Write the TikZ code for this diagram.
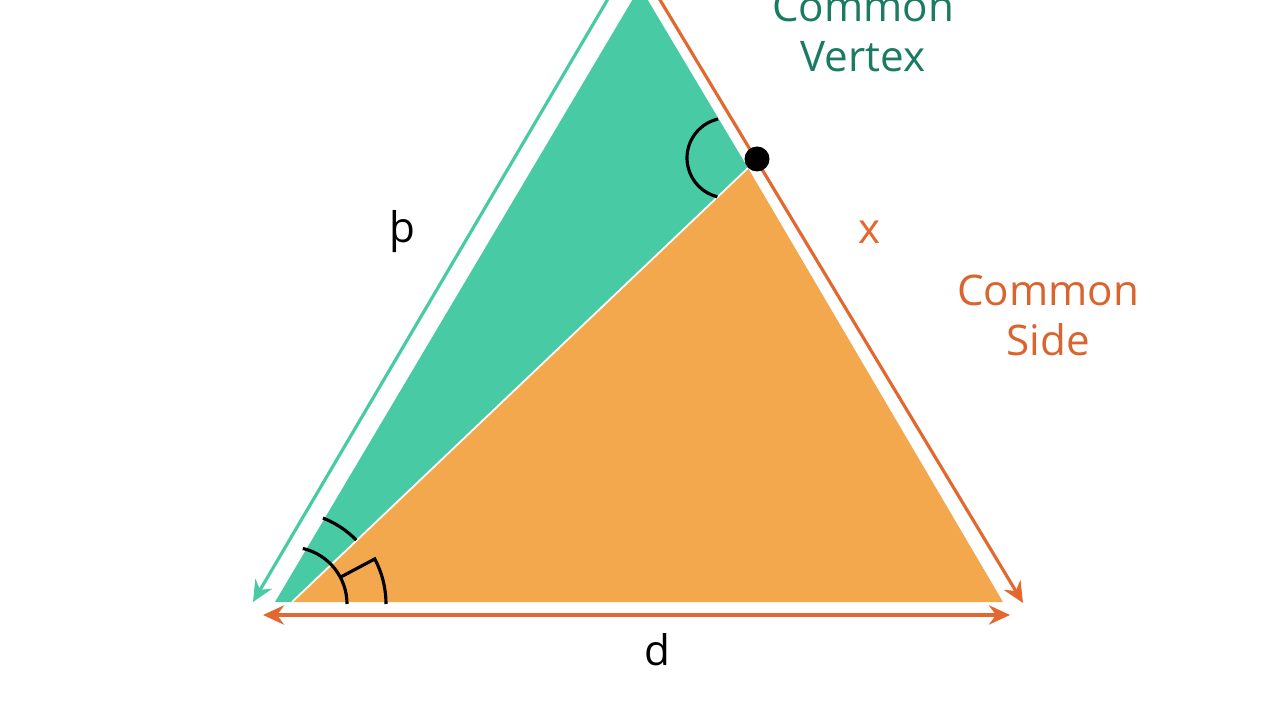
\documentclass[tikz,border=0pt]{standalone}
\usepackage{fontspec}
\setmainfont{Open Sans}
\usetikzlibrary{calc,arrows.meta}
\definecolor{fillgreen}{RGB}{72,202,164}
\definecolor{fillorange}{RGB}{243,168,77}
\definecolor{lineorange}{RGB}{226,104,48}
\definecolor{textgreen}{RGB}{27,122,98}
\definecolor{textorange}{RGB}{218,100,46}
\tikzset{
  sidearrow/.style={line width=1.8pt, -{Stealth[length=12pt,width=11pt,inset=4pt]}},
  anglemark/.style={line width=1.8pt, black},
  lbl/.style={font=\fontsize{24}{28.5}\selectfont, align=center}
}

\begin{document}
\begin{tikzpicture}[x=0.02cm,y=0.02cm]
        \useasboundingbox (0,0) rectangle (1280,720);
        \clip (0,0) rectangle (1280,720);
        \coordinate (A) at (275,118);
        \coordinate (B) at (292,118);
        \coordinate (T) at (640,733);
        \coordinate (D) at (748,552);
        \coordinate (C) at (1003,118);
        \fill[fillgreen] (A) -- (B) -- (D) -- (T) -- cycle;
        \fill[fillorange] (B) -- (D) -- (C) -- cycle;
        \draw[white, line width=1pt] (B) -- (D);
        % outer sides
        \coordinate (g1) at (625,750);
        \coordinate (g2) at (253,118);
        \coordinate (o1) at (642,750);
        \coordinate (o2) at (1023,117);
        \coordinate (b1) at (263,105);
        \coordinate (b2) at (1010,105);
        \draw[sidearrow, color=fillgreen] (g1) -- (g2);
        \draw[sidearrow, color=lineorange] (o1) -- (o2);
        \draw[sidearrow, {Stealth[length=12pt,width=11pt,inset=4pt]}-{Stealth[length=12pt,width=11pt,inset=4pt]}, color=lineorange] (b1) -- (b2);
        % angles
        \coordinate (Dc) at (727,562);
        \draw[anglemark] (Dc) ++(103:40) arc[start angle=103, end angle=256, radius=40];
        \coordinate (O) at (290,116);
        \foreach \r/\a/\b in {92/69/44, 57/77/0}
        \draw[anglemark] (O) ++(\a:\r) arc[start angle=\a, end angle=\b, radius=\r];
        \draw[anglemark] (O) ++(28:57) -- ($(O)+(28:96)$) arc[start angle=28, end angle=0, radius=96];
        \coordinate (V) at (757,561);
        \fill[black] (V) circle (12.5);
        % labels
        \node[lbl, text=textgreen] (vertexlbl) at (863,689) {Common\\Vertex};
        \node[lbl, text=textorange] (sidelbl) at (1048,405) {Common\\Side};
        \node[lbl, text=lineorange] (xlbl) at (870,488) {x};
        \node[lbl] (blbl) at (402,488) {þ};
        \node[lbl] (dlbl) at (657,70) {d};
    \end{tikzpicture}
\end{document}
